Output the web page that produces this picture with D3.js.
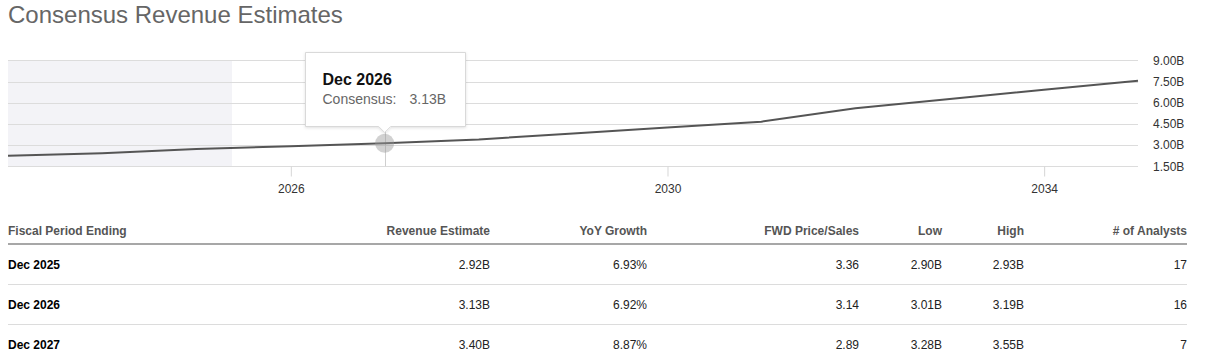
<!DOCTYPE html>
<html>
<head>
<meta charset="utf-8">
<script src="https://cdn.jsdelivr.net/npm/d3@7"></script>
<style>
  html, body { margin: 0; padding: 0; background: #fff; }
  svg { display: block; font-family: "Liberation Sans", Arial, sans-serif; }
</style>
</head>
<body>
<svg id="chart" width="1205" height="357"></svg>
<script>
// ---------- data ----------
const periods = ["Dec 2022","Dec 2023","Dec 2024","Dec 2025","Dec 2026","Dec 2027","Dec 2028","Dec 2029","Dec 2030","Dec 2031","Dec 2032","Dec 2033","Dec 2034"];
const periodDates = ["2022-12-31","2023-12-31","2024-12-31","2025-12-31","2026-12-31","2027-12-31","2028-12-31","2029-12-31","2030-12-31","2031-12-31","2032-12-31","2033-12-31","2034-12-31"];
const revenue = [2.24, 2.42, 2.72, 2.92, 3.13, 3.40, 3.82, 4.25, 4.66, 5.60, 6.26, 6.91, 7.56];
const yTicks = [1.5, 3.0, 4.5, 6.0, 7.5, 9.0];
const xTickYears = [2026, 2030, 2034];
const todayDate = "2025-05-18";
const highlightIndex = 4;

const tableHeaders = ["Fiscal Period Ending","Revenue Estimate","YoY Growth","FWD Price/Sales","Low","High","# of Analysts"];
const tablePeriods = ["Dec 2025","Dec 2026","Dec 2027"];
const tableRevenue = ["2.92B","3.13B","3.40B"];
const tableGrowth = ["6.93%","6.92%","8.87%"];
const tablePS = ["3.36","3.14","2.89"];
const tableLow = ["2.90B","3.01B","3.28B"];
const tableHigh = ["2.93B","3.19B","3.55B"];
const tableAnalysts = ["17","16","7"];

// ---------- setup ----------
const svg = d3.select("#chart");
const parse = d3.timeParse("%Y-%m-%d");
const dates = periodDates.map(parse);
const plot = { left: 8, right: 1138, top: 60.3, bottom: 166.3 };

const x = d3.scaleTime().domain([dates[0], dates[dates.length - 1]]).range([plot.left, plot.right]);
const y = d3.scaleLinear().domain([1.5, 9.0]).range([plot.bottom, plot.top]);

// title
svg.append("text").attr("x", 8).attr("y", 23)
  .attr("font-size", 24).attr("fill", "#666")
  .text("Consensus Revenue Estimates");

// past shading
svg.append("rect")
  .attr("x", plot.left).attr("y", plot.top)
  .attr("width", x(parse(todayDate)) - plot.left)
  .attr("height", plot.bottom - plot.top)
  .attr("fill", "#f3f3f7");

// gridlines + right axis labels
const yAxis = d3.axisRight(y).tickValues(yTicks)
  .tickSize(0).tickPadding(0)
  .tickFormat(d => d3.format(".2f")(d) + "B");
const gy = svg.append("g").attr("transform", `translate(${plot.right + 15},0)`).call(yAxis);
gy.select(".domain").remove();
gy.selectAll("text").attr("font-size", 12).attr("fill", "#333").attr("font-family", "Liberation Sans, Arial, sans-serif");

svg.append("g").selectAll("line").data(yTicks).join("line")
  .attr("x1", plot.left).attr("x2", plot.right)
  .attr("y1", d => Math.round(y(d)) + 0.5).attr("y2", d => Math.round(y(d)) + 0.5)
  .attr("stroke", "#dcdcdc").attr("stroke-width", 1);

// x axis
const xAxis = d3.axisBottom(x)
  .tickValues(xTickYears.map(yy => new Date(yy, 0, 1)))
  .tickSize(10).tickPadding(8)
  .tickFormat(d3.timeFormat("%Y"));
const gx = svg.append("g").attr("transform", `translate(0,${Math.round(plot.bottom) + 0.5})`).call(xAxis);
gx.select(".domain").remove();
gx.selectAll("line").attr("stroke", "#d6d6d6");
gx.selectAll("text").attr("font-size", 12).attr("fill", "#333").attr("font-family", "Liberation Sans, Arial, sans-serif");

// crosshair
const hx = Math.round(x(dates[highlightIndex])) + 0.5;
svg.append("line").attr("x1", hx).attr("x2", hx)
  .attr("y1", plot.top).attr("y2", plot.bottom)
  .attr("stroke", "#cfcfcf").attr("stroke-width", 1);

// line
const line = d3.line().x((d, i) => x(dates[i])).y(d => y(d));
svg.append("path").datum(revenue)
  .attr("d", line).attr("fill", "none")
  .attr("stroke", "#555").attr("stroke-width", 2);

// hover marker
svg.append("circle")
  .attr("cx", x(dates[highlightIndex])).attr("cy", y(revenue[highlightIndex]))
  .attr("r", 9.5).attr("fill", "#999").attr("fill-opacity", 0.45);

// tooltip
const tipW = 160, tipH = 74;
const tcx = x(dates[highlightIndex]);
const tipX = Math.round(tcx - tipW / 2) + 0.5, tipY = 52.5;
const tip = svg.append("g");
const defs = svg.append("defs");
const f = defs.append("filter").attr("id", "sh").attr("x", "-10%").attr("y", "-10%").attr("width", "120%").attr("height", "130%");
f.append("feDropShadow").attr("dx", 0).attr("dy", 1).attr("stdDeviation", 1.5).attr("flood-color", "#000").attr("flood-opacity", 0.12);
const tb = tipY + tipH;
tip.append("path")
  .attr("d", `M${tipX},${tipY} H${tipX + tipW} V${tb} H${tcx + 6} L${tcx},${tb + 6} L${tcx - 6},${tb} H${tipX} Z`)
  .attr("fill", "#fff").attr("stroke", "#d9d9d9").attr("stroke-width", 1)
  .attr("filter", "url(#sh)");
tip.append("text").attr("x", tipX + 17).attr("y", tipY + 32)
  .attr("font-size", 16).attr("font-weight", "bold").attr("fill", "#111")
  .text(periods[highlightIndex]);
tip.append("text").attr("x", tipX + 17).attr("y", tipY + 51.5)
  .attr("font-size", 14).attr("fill", "#666").text("Consensus:");
tip.append("text").attr("x", tipX + 104).attr("y", tipY + 51.5)
  .attr("font-size", 14).attr("fill", "#666").text(d3.format(".2f")(revenue[highlightIndex]) + "B");

// ---------- table ----------
const colRight = [null, 490, 647, 859, 942, 1024, 1187];
const headerY = 235;
const tg = svg.append("g").attr("font-size", 12);
tableHeaders.forEach((h, i) => {
  tg.append("text")
    .attr("x", i === 0 ? 8 : colRight[i]).attr("y", headerY)
    .attr("text-anchor", i === 0 ? "start" : "end")
    .attr("font-weight", "bold").attr("fill", "#555").text(h);
});
tg.append("line").attr("x1", 8).attr("x2", 1187).attr("y1", 244).attr("y2", 244)
  .attr("stroke", "#8a8a8a").attr("stroke-width", 1.5);

const cols = [tablePeriods, tableRevenue, tableGrowth, tablePS, tableLow, tableHigh, tableAnalysts];
tablePeriods.forEach((p, r) => {
  const by = 269 + r * 40;
  cols.forEach((c, i) => {
    tg.append("text")
      .attr("x", i === 0 ? 8 : colRight[i]).attr("y", by)
      .attr("text-anchor", i === 0 ? "start" : "end")
      .attr("font-weight", i === 0 ? "bold" : "normal")
      .attr("fill", i === 0 ? "#000" : "#222").text(c[r]);
  });
  if (r < tablePeriods.length - 1) {
    tg.append("line").attr("x1", 8).attr("x2", 1187)
      .attr("y1", by + 15.5).attr("y2", by + 15.5)
      .attr("stroke", "#dcdcdc").attr("stroke-width", 1);
  }
});
</script>
</body>
</html>
